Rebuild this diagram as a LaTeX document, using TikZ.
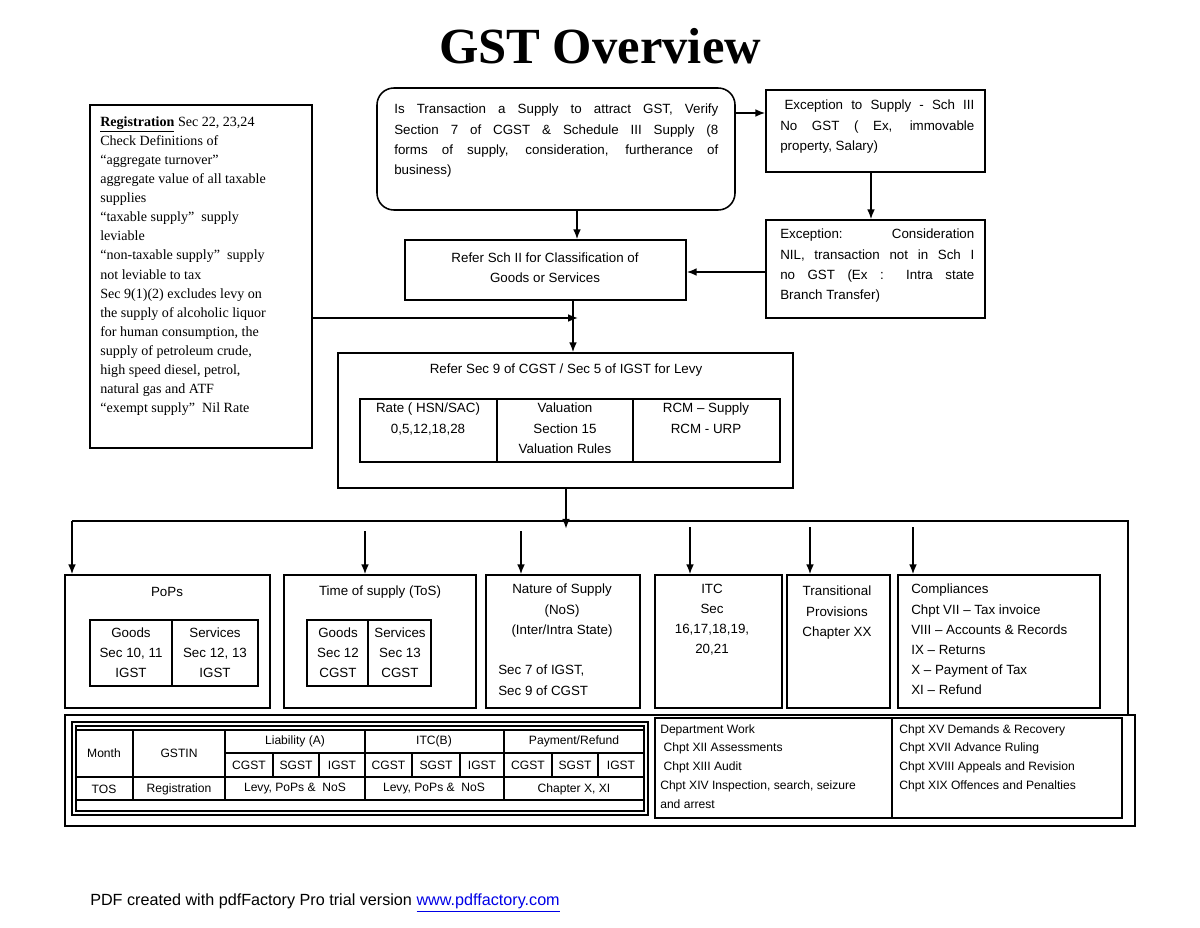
\documentclass[tikz,border=0pt]{standalone}
\usepackage{fontspec}
\setmainfont{Liberation Serif}
\setsansfont{Liberation Sans}
\usetikzlibrary{fit,calc,arrows.meta}
\definecolor{linkblue}{RGB}{0,0,230}
\tikzset{
  box/.style={draw,line width=1.1pt,inner sep=0pt},
  arr/.style={-{Latex[length=7pt,width=5.5pt]},line width=1.1pt},
  txt/.style={font=\sffamily\fontsize{9.5}{14.3}\selectfont,inner sep=0pt},
  small/.style={font=\sffamily\fontsize{8.6}{13.4}\selectfont,inner sep=0pt},
}
\begin{document}
\begin{tikzpicture}[x=0.025cm,y=-0.025cm]
\useasboundingbox (0,0) rectangle (1200,927);
\node[font=\bfseries\fontsize{36}{36}\selectfont] (title) at (600,46) {GST Overview};
% top part
\node[box,fit={(90,105) (312,448)}] (reg) {};
\node[font=\fontsize{10}{13.6}\selectfont,inner sep=0pt,anchor=north west,align=left] (regtxt) at (100,116)
  {\textbf{\underline{Registration}} Sec 22, 23,24\\Check Definitions of\\``aggregate turnover''\\aggregate value of all taxable\\supplies\\``taxable supply''\ \ supply\\leviable\\``non-taxable supply''\ \ supply\\not leviable to tax\\Sec 9(1)(2) excludes levy on\\the supply of alcoholic liquor\\for human consumption, the\\supply of petroleum crude,\\high speed diesel, petrol,\\natural gas and ATF\\``exempt supply''\ \ Nil Rate};
\node[box,rounded corners=12pt,fit={(377,88) (735,210)}] (trans) {};
\node[txt,anchor=north west,text width=8.1cm,align=justify] (transtxt) at (394,104)
  {Is Transaction a Supply to attract GST, Verify\linebreak Section 7 of CGST \& Schedule III Supply (8\linebreak forms of supply, consideration, furtherance of\linebreak business)};
\node[box,fit={(766,90) (985,172)}] (exc1) {};
\node[txt,anchor=north west,text width=4.85cm,align=justify] (exc1txt) at (780,100)
  {\hspace*{3pt}Exception to Supply - Sch III\linebreak No GST ( Ex, immovable\linebreak property, Salary)};
\node[box,fit={(766,220) (985,318)}] (exc2) {};
\node[txt,anchor=north west,text width=4.85cm,align=justify] (exc2txt) at (780,229)
  {Exception: Consideration\linebreak NIL, transaction not in Sch I\linebreak no GST (Ex : Intra state\linebreak Branch Transfer)};
\node[box,fit={(405,240) (686,300)}] (sch2) {};
\node[txt,align=center] (sch2txt) at (545,268) {Refer Sch II for Classification of\\Goods or Services};
\node[box,fit={(338,353) (793,488)}] (levy) {};
\node[txt] (levytxt) at (566,370) {Refer Sec 9 of CGST / Sec 5 of IGST for Levy};
\node[draw,thick,inner sep=0pt,fit={(360,399) (780,462)}] (rate) {};
\draw[thick] (497,399) -- (497,462) (633,399) -- (633,462);
\node[txt,align=center,anchor=north] (ratetxt) at (428,403) {Rate ( HSN/SAC)\\0,5,12,18,28};
\node[txt,align=center,anchor=north] (valtxt) at (565,403) {Valuation\\Section 15\\Valuation Rules};
\node[txt,align=center,anchor=north] (rcmtxt) at (706,403) {RCM -- Supply\\RCM - URP};
% connectors top
\draw[arr] (trans.east |- 0,113) -- (exc1.west |- 0,113);
\draw[arr] (trans.south -| 577,0) -- (sch2.north -| 577,0);
\draw[arr] (exc1.south -| 871,0) -- (exc2.north -| 871,0);
\draw[arr] (exc2.west |- 0,272) -- (sch2.east |- 0,272);
\draw[arr] (sch2.south -| 573,0) -- (levy.north -| 573,0);
\draw[arr] (reg.east |- 0,318) -- (578,318);
% middle row
\node[box,fit={(65,575) (270,708)}] (pops) {};
\node[txt] (popstxt) at (167,592) {PoPs};
\node[draw,thick,inner sep=0pt,fit={(90,620) (258,686)}] (popstab) {};
\draw[thick] (172,620) -- (172,686);
\node[txt,align=center] (popsg) at (131,653) {Goods\\Sec 10, 11\\IGST};
\node[txt,align=center] (popss) at (215,653) {Services\\Sec 12, 13\\IGST};
\node[box,fit={(284,575) (476,708)}] (tos) {};
\node[txt] (tostxt) at (380,592) {Time of supply (ToS)};
\node[draw,thick,inner sep=0pt,fit={(307,620) (431,686)}] (tostab) {};
\draw[thick] (368,620) -- (368,686);
\node[txt,align=center] (tosg) at (338,653) {Goods\\Sec 12\\CGST};
\node[txt,align=center] (toss) at (400,653) {Services\\Sec 13\\CGST};
\node[box,fit={(486,575) (640,708)}] (nos) {};
\node[txt,align=center,anchor=north] (nostxt) at (562,584) {Nature of Supply\\(NoS)\\(Inter/Intra State)};
\node[txt,align=left,anchor=north west] (nossec) at (498,665) {Sec 7 of IGST,\\Sec 9 of CGST};
\node[box,fit={(655,575) (782,708)}] (itc) {};
\node[txt,align=center,anchor=north] (itctxt) at (712,584) {ITC\\Sec\\16,17,18,19,\\20,21};
\node[box,fit={(787,575) (890,708)}] (trs) {};
\node[txt,align=center,anchor=north] (trstxt) at (837,586) {Transitional\\Provisions\\Chapter XX};
\node[box,fit={(898,575) (1100,708)}] (comp) {};
\node[txt,align=left,anchor=north west] (comptxt) at (911,584) {Compliances\\Chpt VII -- Tax invoice\\VIII -- Accounts \& Records\\IX -- Returns\\X -- Payment of Tax\\XI -- Refund};
% bottom part
\node[box,fit={(65,715) (1135,826)}] (bottom) {};
\node[draw,line width=1.6pt,inner sep=0pt,fit={(72,722) (648,815)}] (ret) {};
\draw[thick] (76,726) rectangle (644,811);
\draw[thick] (76,730) -- (644,730) (225,753) -- (644,753) (76,777) -- (644,777) (76,800) -- (644,800);
\draw[thick] (133,730) -- (133,800) (225,730) -- (225,800) (365,730) -- (365,800) (504,730) -- (504,800);
\foreach \x in {273,319,412,460,552,598} \draw[thick] (\x,753) -- (\x,777);
\node[small] (m) at (104,753) {Month};
\node[small] (g) at (179,753) {GSTIN};
\node[small] (la) at (295,741) {Liability (A)};
\node[small] (ib) at (434,741) {ITC(B)};
\node[small] (pr) at (574,741) {Payment/Refund};
\foreach \a/\b in {225/273,365/412,504/552} \node[small] at ({(\a+\b)/2},765) {CGST};
\foreach \a/\b in {273/319,412/460,552/598} \node[small] at ({(\a+\b)/2},765) {SGST};
\foreach \a/\b in {319/365,460/504,598/644} \node[small] at ({(\a+\b)/2},765) {IGST};
\node[small] (tosr) at (104,789) {TOS};
\node[small] (regr) at (179,789) {Registration};
\node[small] (lv1) at (295,789) {Levy, PoPs \&\ \ NoS};
\node[small] (lv2) at (434,789) {Levy, PoPs \&\ \ NoS};
\node[small] (ch) at (574,789) {Chapter X, XI};
\node[draw,thick,inner sep=0pt,fit={(655,718) (1122,818)}] (dept) {};
\draw[thick] (892,718) -- (892,818);
\node[small,align=left,anchor=north west] (depttxt) at (660,724) {Department Work\\\ Chpt XII Assessments\\\ Chpt XIII Audit\\Chpt XIV Inspection, search, seizure\\and arrest};
\node[small,align=left,anchor=north west] (depttxt2) at (899,724) {Chpt XV Demands \& Recovery\\Chpt XVII Advance Ruling\\Chpt XVIII Appeals and Revision\\Chpt XIX Offences and Penalties};
% distribution line
\coordinate (hub) at (566,521);
\draw[arr] (levy.south -| hub) -- ++(0,40);
\draw[line width=1.1pt] (72,521) -- (1128,521) -- (1128,715);
\draw[arr] (72,521) -- (pops.north -| 72,0);
\foreach \x/\n in {365/tos,521/nos}
  \draw[arr] (\x,531) -- (\n.north -| \x,0);
\foreach \x/\n in {690/itc,810/trs,913/comp}
  \draw[arr] (\x,527) -- (\n.north -| \x,0);
\node[font=\sffamily\fontsize{11.5}{11.5}\selectfont,anchor=west,inner sep=0pt] (foot) at (90,903) {PDF created with pdfFactory Pro trial version \textcolor{linkblue}{\underline{www.pdffactory.com}}};
\end{tikzpicture}
\end{document}
